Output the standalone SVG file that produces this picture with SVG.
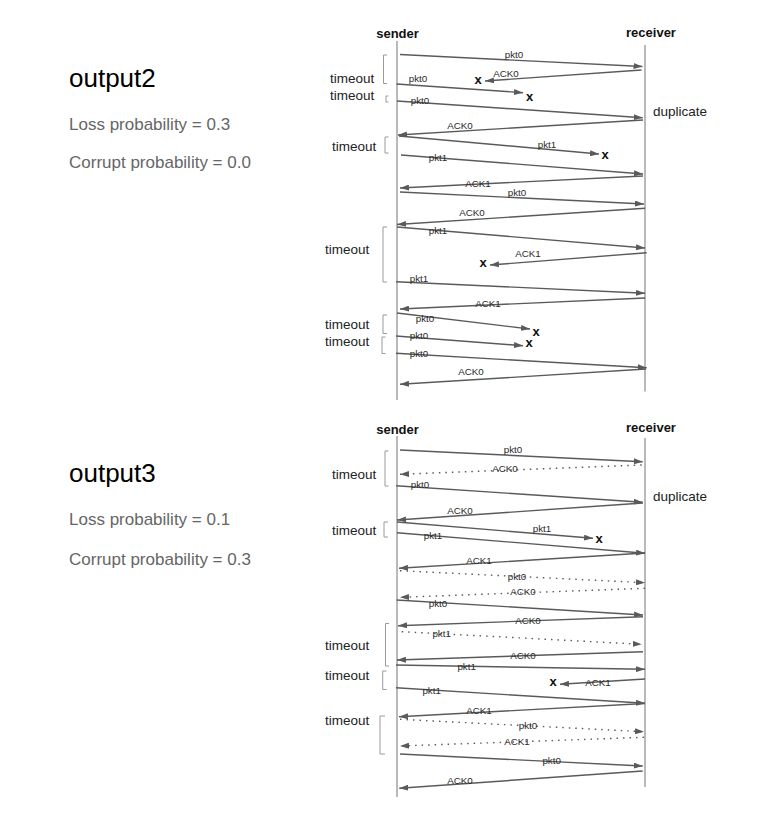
<svg xmlns="http://www.w3.org/2000/svg" width="768" height="816" viewBox="0 0 768 816">
<defs>
<marker id="ah" markerUnits="userSpaceOnUse" markerWidth="9" markerHeight="6" refX="9" refY="3" orient="auto">
<path d="M0,0 L9,3 L0,6 z" fill="#5a5a5a"/>
</marker>
<style>
.bg{fill:#fff}
.title{font-family:"Liberation Sans",Arial,sans-serif;font-size:26px;fill:#000}
.prob{font-family:"Liberation Sans",Arial,sans-serif;font-size:17px;fill:#666}
.hdr{font-family:"Liberation Sans",Arial,sans-serif;font-size:13px;font-weight:bold;fill:#111;text-anchor:middle}
.life{stroke:#8a8a8a;stroke-width:1.2;fill:none}
.msg{stroke:#5a5a5a;stroke-width:1.4;fill:none;marker-end:url(#ah)}
.dot{stroke-dasharray:1.5 5}
.lbl{font-family:"Liberation Sans",Arial,sans-serif;font-size:9.8px;fill:#2a2a2a;text-anchor:middle}
.to{font-family:"Liberation Sans",Arial,sans-serif;font-size:13.5px;fill:#222}
.br{stroke:#9a9a9a;stroke-width:1;fill:none}
.x{font-family:"Liberation Sans",Arial,sans-serif;font-size:13px;font-weight:bold;fill:#111;text-anchor:middle}
</style>
</defs>
<rect class="bg" width="768" height="816"/>

<g id="info2">
<text class="title" x="69" y="87">output2</text>
<text class="prob" x="69" y="130">Loss probability = 0.3</text>
<text class="prob" x="69" y="168">Corrupt probability = 0.0</text>
</g>
<g id="info3">
<text class="title" x="69" y="482">output3</text>
<text class="prob" x="69" y="525">Loss probability = 0.1</text>
<text class="prob" x="69" y="565">Corrupt probability = 0.3</text>
</g>

<g id="top-sender">
<text class="hdr" x="397.5" y="38">sender</text>
<line class="life" x1="397" y1="41" x2="397" y2="400"/>
</g>
<g id="top-receiver">
<text class="hdr" x="651" y="36.5">receiver</text>
<line class="life" x1="645" y1="45" x2="645" y2="391.5"/>
<text class="to" x="653" y="116">duplicate</text>
</g>

<g id="top-timeouts">
<path class="br" d="M387,55 H383.5 V83.5 H387"/>
<text class="to" x="330" y="82.5">timeout</text>
<path class="br" d="M388.5,96 H386 V102 H388.5"/>
<text class="to" x="330" y="99.5">timeout</text>
<path class="br" d="M388.5,137 H385 V153 H388.5"/>
<text class="to" x="332" y="151">timeout</text>
<path class="br" d="M387,227 H383 V282 H387"/>
<text class="to" x="325" y="253.5">timeout</text>
<path class="br" d="M387,315 H383 V333.5 H387"/>
<text class="to" x="325" y="329">timeout</text>
<path class="br" d="M385.5,337 H382 V353.5 H385.5"/>
<text class="to" x="325" y="345.5">timeout</text>
</g>

<g id="top-connectors">
<line class="msg" x1="400" y1="54.5" x2="642.5" y2="66.5"/>
<line class="msg" x1="641.5" y1="70" x2="485" y2="81"/>
<line class="msg" x1="396.5" y1="84" x2="523" y2="92.7"/>
<line class="msg" x1="397" y1="101" x2="642.7" y2="117.7"/>
<line class="msg" x1="643" y1="120" x2="398" y2="135"/>
<line class="msg" x1="399" y1="136" x2="599" y2="154"/>
<line class="msg" x1="401" y1="155" x2="643" y2="174"/>
<line class="msg" x1="643" y1="176" x2="400" y2="188"/>
<line class="msg" x1="400" y1="192" x2="644" y2="204"/>
<line class="msg" x1="645" y1="208.3" x2="397" y2="224.5"/>
<line class="msg" x1="397" y1="227" x2="645" y2="248"/>
<line class="msg" x1="646.7" y1="252.7" x2="490" y2="265"/>
<line class="msg" x1="396" y1="281.7" x2="645" y2="293.3"/>
<line class="msg" x1="645" y1="298" x2="400" y2="309"/>
<line class="msg" x1="397" y1="313" x2="530" y2="329"/>
<line class="msg" x1="396" y1="336" x2="523" y2="345.7"/>
<line class="msg" x1="396" y1="353.3" x2="646.7" y2="367.7"/>
<line class="msg" x1="646" y1="369" x2="400" y2="384.3"/>
</g>
<g id="top-labels">
<text class="lbl" x="514" y="57.5">pkt0</text>
<text class="lbl" x="506" y="76.8">ACK0</text>
<text class="x" x="478" y="83.5">x</text>
<text class="lbl" x="418" y="81.5">pkt0</text>
<text class="x" x="529.5" y="100.8">x</text>
<text class="lbl" x="420" y="103.5">pkt0</text>
<text class="lbl" x="460" y="128.5">ACK0</text>
<text class="lbl" x="547" y="147.5">pkt1</text>
<text class="x" x="605" y="158.5">x</text>
<text class="lbl" x="438" y="160.5">pkt1</text>
<text class="lbl" x="478" y="186.5">ACK1</text>
<text class="lbl" x="517" y="195.5">pkt0</text>
<text class="lbl" x="472" y="215.5">ACK0</text>
<text class="lbl" x="438" y="233.5">pkt1</text>
<text class="lbl" x="528" y="256.5">ACK1</text>
<text class="x" x="483" y="266.5">x</text>
<text class="lbl" x="419" y="281.5">pkt1</text>
<text class="lbl" x="488" y="306.5">ACK1</text>
<text class="lbl" x="425" y="321.5">pkt0</text>
<text class="x" x="536" y="335.5">x</text>
<text class="lbl" x="419" y="338.5">pkt0</text>
<text class="x" x="529" y="346.5">x</text>
<text class="lbl" x="419" y="356.5">pkt0</text>
<text class="lbl" x="471" y="374.5">ACK0</text>
</g>

<g id="bot-sender">
<text class="hdr" x="397.5" y="433.5">sender</text>
<line class="life" x1="397" y1="436" x2="397" y2="797"/>
</g>
<g id="bot-receiver">
<text class="hdr" x="651" y="432">receiver</text>
<line class="life" x1="645" y1="438" x2="645" y2="787"/>
<text class="to" x="653" y="501">duplicate</text>
</g>

<g id="bot-timeouts">
<path class="br" d="M388.5,451 H385 V486 H388.5"/>
<text class="to" x="332" y="479">timeout</text>
<path class="br" d="M388,522 H384 V537 H388"/>
<text class="to" x="332" y="535">timeout</text>
<path class="br" d="M389,623.5 H385.5 V666 H389"/>
<text class="to" x="325" y="650">timeout</text>
<path class="br" d="M386.5,671 H382.7 V689.5 H386.5"/>
<text class="to" x="325" y="679.5">timeout</text>
<path class="br" d="M385,716 H380 V754 H385"/>
<text class="to" x="325" y="724.5">timeout</text>
</g>

<g id="bot-connectors">
<line class="msg" x1="400" y1="450" x2="642.7" y2="461.7"/>
<line class="msg dot" x1="641.7" y1="465" x2="400" y2="474.3"/>
<line class="msg" x1="396" y1="485.7" x2="642.7" y2="502.3"/>
<line class="msg" x1="643" y1="503" x2="397" y2="520"/>
<line class="msg" x1="397" y1="522" x2="593" y2="538.3"/>
<line class="msg" x1="397" y1="532.7" x2="645" y2="553.3"/>
<line class="msg" x1="645" y1="553" x2="399" y2="568.3"/>
<line class="msg dot" x1="400" y1="570.7" x2="645" y2="582.7"/>
<line class="msg dot" x1="645" y1="588.3" x2="400" y2="597.3"/>
<line class="msg" x1="396.7" y1="600" x2="643" y2="615"/>
<line class="msg" x1="643" y1="616.7" x2="398" y2="625.7"/>
<line class="msg dot" x1="401.7" y1="631.7" x2="641.7" y2="644.3"/>
<line class="msg" x1="643" y1="651.7" x2="397" y2="660"/>
<line class="msg" x1="396" y1="665" x2="645" y2="669.3"/>
<line class="msg" x1="645" y1="679" x2="560" y2="684.3"/>
<line class="msg" x1="396" y1="687.7" x2="645" y2="703.3"/>
<line class="msg" x1="645" y1="703.5" x2="399" y2="716.7"/>
<line class="msg dot" x1="400" y1="719.3" x2="644" y2="731.7"/>
<line class="msg dot" x1="644" y1="737.3" x2="400" y2="746"/>
<line class="msg" x1="400" y1="754" x2="642.7" y2="766"/>
<line class="msg" x1="642.7" y1="771" x2="399.3" y2="788.3"/>
</g>
<g id="bot-labels">
<text class="lbl" x="513" y="452.8">pkt0</text>
<text class="lbl" x="505" y="471.8">ACK0</text>
<text class="lbl" x="420" y="487.8">pkt0</text>
<text class="lbl" x="460" y="513.5">ACK0</text>
<text class="lbl" x="542" y="531.5">pkt1</text>
<text class="x" x="599" y="542.8">x</text>
<text class="lbl" x="433" y="538.5">pkt1</text>
<text class="lbl" x="479" y="564.2">ACK1</text>
<text class="lbl" x="517" y="580.2">pkt0</text>
<text class="lbl" x="523" y="595.2">ACK0</text>
<text class="lbl" x="438" y="606.8">pkt0</text>
<text class="lbl" x="528" y="623.5">ACK0</text>
<text class="lbl" x="441.7" y="636.8">pkt1</text>
<text class="lbl" x="523" y="658.5">ACK0</text>
<text class="lbl" x="466.7" y="670.2">pkt1</text>
<text class="lbl" x="598" y="685.8">ACK1</text>
<text class="x" x="553" y="686.2">x</text>
<text class="lbl" x="431.7" y="693.5">pkt1</text>
<text class="lbl" x="479" y="713.5">ACK1</text>
<text class="lbl" x="528" y="728.5">pkt0</text>
<text class="lbl" x="517" y="745.2">ACK1</text>
<text class="lbl" x="551.7" y="763.5">pkt0</text>
<text class="lbl" x="460" y="783.5">ACK0</text>
</g>
</svg>
